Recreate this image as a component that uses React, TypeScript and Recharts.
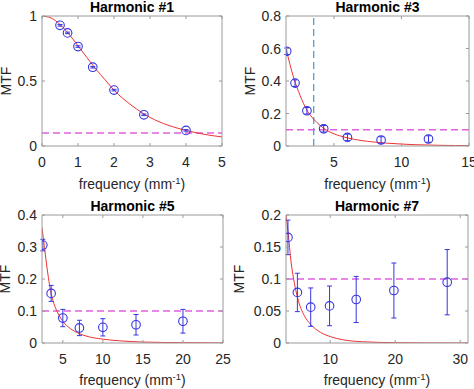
import React from 'react';
import { ComposedChart, Line, Scatter, XAxis, YAxis, ReferenceLine, ErrorBar } from 'recharts';

// ---------- data ----------
const freq1 = [0.5, 0.71, 1.0, 1.41, 2.0, 2.83, 4.0];
const mtf1 = [0.928, 0.87, 0.765, 0.606, 0.43, 0.24, 0.12];
const err1 = [0.006, 0.006, 0.006, 0.006, 0.006, 0.006, 0.006];
const fitF1 = [0, 0.25, 0.5, 0.75, 1, 1.25, 1.5, 1.75, 2, 2.5, 3, 3.5, 4, 4.5, 5];
const fitM1 = [1.0, 0.985, 0.935, 0.86, 0.77, 0.68, 0.59, 0.51, 0.43, 0.31, 0.22, 0.16, 0.12, 0.09, 0.07];

const freq3 = [1.5, 2.12, 3.0, 4.24, 6.0, 8.49, 12.0];
const mtf3 = [0.583, 0.387, 0.217, 0.106, 0.053, 0.037, 0.043];
const err3 = [0.02, 0.02, 0.02, 0.02, 0.02, 0.02, 0.02];
const fitF3 = [1.45, 1.75, 2, 2.5, 3, 3.5, 4, 4.5, 5, 6, 7, 8, 9, 10, 11, 12, 13, 14, 15];
const fitM3 = [0.6, 0.5, 0.425, 0.31, 0.22, 0.165, 0.125, 0.095, 0.075, 0.05, 0.034, 0.024, 0.017, 0.012, 0.008, 0.006, 0.004, 0.003, 0.002];

const freq5 = [2.5, 3.54, 5.0, 7.07, 10.0, 14.14, 20.0];
const mtf5 = [0.306, 0.155, 0.078, 0.047, 0.049, 0.057, 0.068];
const err5 = [0.018, 0.025, 0.027, 0.024, 0.027, 0.032, 0.037];
const fitF5 = [2.4, 2.75, 3, 3.54, 4, 4.5, 5, 6, 7, 8, 10, 12, 15, 20, 25];
const fitM5 = [0.36, 0.29, 0.24, 0.155, 0.115, 0.088, 0.068, 0.044, 0.03, 0.021, 0.012, 0.007, 0.003, 0.001, 0.0003];

const freq7 = [3.5, 4.95, 7.0, 9.9, 14.0, 19.8, 28.0];
const mtf7 = [0.165, 0.079, 0.056, 0.058, 0.068, 0.082, 0.095];
const err7 = [0.027, 0.03, 0.03, 0.031, 0.036, 0.043, 0.051];
const fitF7 = [3.2, 3.5, 4, 4.5, 5, 6, 7, 8, 9, 10, 12, 15, 20, 25, 31.2];
const fitM7 = [0.2, 0.175, 0.125, 0.093, 0.07, 0.043, 0.029, 0.02, 0.014, 0.01, 0.005, 0.002, 0.0005, 0.0001, 0];

const xTicks1 = [0, 1, 2, 3, 4, 5];
const yTicks1 = [0, 0.5, 1];
const xTicks3 = [5, 10, 15];
const yTicks3 = [0, 0.2, 0.4, 0.6, 0.8];
const xTicks5 = [5, 10, 15, 20, 25];
const yTicks5 = [0, 0.1, 0.2, 0.3, 0.4];
const xTicks7 = [10, 20, 30];
const yTicks7 = [0, 0.05, 0.1, 0.15, 0.2];

const titles = ['Harmonic #1', 'Harmonic #3', 'Harmonic #5', 'Harmonic #7'];
const threshold = 0.1;
const cutoff3 = 3.5;

// ---------- styles ----------
const FONT = '"Liberation Sans", Arial, Helvetica, sans-serif';
const TXT = '#262626';
const BOX = '#9a9a9a';
const RED = '#ee3333';
const BLUE = '#3535e0';
const MAG = '#e060e0';
const CYAN = '#4d9fd6';
const FS = 14;
const TICK = 3;
const W = 237;
const H = 195;

const zip = (xs: number[], ys: number[], es?: number[]) =>
  xs.map((x, i) => (es ? { x, y: ys[i], e: es[i] } : { x, y: ys[i] }));

type Box = { top: number; left: number; right: number; bottom: number };
type Cfg = {
  left: number;
  top: number;
  box: Box; // distances from the panel edges to the plot frame
  title: string;
  points: { x: number; y: number; e?: number }[];
  curve: { x: number; y: number }[];
  xDomain: [number, number];
  yDomain: [number, number];
  xTicks: number[];
  yTicks: number[];
  mtfX: number;
  xLabelDy: number;
  vline?: number;
};

const panels: Cfg[] = [
  {
    left: 0, top: 0, box: { top: 16, left: 42, right: 15, bottom: 49 },
    title: titles[0], points: zip(freq1, mtf1, err1), curve: zip(fitF1, fitM1),
    xDomain: [0, 5], yDomain: [0, 1], xTicks: xTicks1, yTicks: yTicks1, mtfX: 10.5, xLabelDy: 43,
  },
  {
    left: 237, top: 0, box: { top: 16, left: 49, right: 5, bottom: 49 },
    title: titles[1], points: zip(freq3, mtf3, err3), curve: zip(fitF3, fitM3),
    xDomain: [1.45, 15], yDomain: [0, 0.8], xTicks: xTicks3, yTicks: yTicks3, mtfX: 17.5, xLabelDy: 43,
    vline: cutoff3,
  },
  {
    left: 0, top: 195, box: { top: 20, left: 42, right: 14, bottom: 47 },
    title: titles[2], points: zip(freq5, mtf5, err5), curve: zip(fitF5, fitM5),
    xDomain: [2.4, 25], yDomain: [0, 0.4], xTicks: xTicks5, yTicks: yTicks5, mtfX: 10, xLabelDy: 42,
  },
  {
    left: 237, top: 195, box: { top: 20, left: 49, right: 6, bottom: 47 },
    title: titles[3], points: zip(freq7, mtf7, err7), curve: zip(fitF7, fitM7),
    xDomain: [3.2, 31.2], yDomain: [0, 0.2], xTicks: xTicks7, yTicks: yTicks7, mtfX: 6.5, xLabelDy: 42,
  },
];

const txtProps = { fontFamily: FONT, fontSize: FS, fill: TXT };

const bottomTick = (p: any) => (
  <g>
    <line x1={p.x} x2={p.x} y1={p.y} y2={p.y - TICK} stroke={BOX} />
    <text x={p.x} y={p.y + 21} textAnchor="middle" {...txtProps}>
      {String(p.payload.value)}
    </text>
  </g>
);
const topTick = (p: any) => (
  <line x1={p.x} x2={p.x} y1={p.y} y2={p.y + TICK} stroke={BOX} />
);
const leftTick = (p: any) => (
  <g>
    <line x1={p.x} x2={p.x + TICK} y1={p.y} y2={p.y} stroke={BOX} />
    <text x={p.x - 5} y={p.y + 5} textAnchor="end" {...txtProps}>
      {String(p.payload.value)}
    </text>
  </g>
);
const rightTick = (p: any) => (
  <line x1={p.x} x2={p.x - TICK} y1={p.y} y2={p.y} stroke={BOX} />
);

const circle = (p: any) => (
  <circle cx={p.cx} cy={p.cy} r={4.3} fill="none" stroke={BLUE} strokeWidth={1.1} />
);

function Panel({ cfg }: { cfg: Cfg }) {
  const { box } = cfg;
  // axes take 1px each, so the margin is one pixel smaller than the frame offset
  const margin = { top: box.top - 1, left: box.left - 1, right: box.right - 1, bottom: box.bottom - 1 };
  const boxL = box.left;
  const boxR = W - box.right;
  const boxT = box.top;
  const boxB = H - box.bottom;
  const cx = (boxL + boxR) / 2;
  const cy = (boxT + boxB) / 2;
  return (
    <div style={{ position: 'absolute', left: cfg.left, top: cfg.top, width: W, height: H }}>
      <ComposedChart width={W} height={H} margin={margin}>
        <XAxis
          xAxisId={0} type="number" dataKey="x" domain={cfg.xDomain} ticks={cfg.xTicks}
          allowDataOverflow interval={0} height={1} tickSize={0} tickMargin={0} tickLine={false}
          axisLine={{ stroke: BOX }} tick={bottomTick}
        />
        <XAxis
          xAxisId="top" orientation="top" type="number" dataKey="x" domain={cfg.xDomain} ticks={cfg.xTicks}
          allowDataOverflow interval={0} height={1} tickSize={0} tickMargin={0} tickLine={false}
          axisLine={{ stroke: BOX }} tick={topTick}
        />
        <YAxis
          yAxisId={0} type="number" dataKey="y" domain={cfg.yDomain} ticks={cfg.yTicks}
          allowDataOverflow interval={0} width={1} tickSize={0} tickMargin={0} tickLine={false}
          axisLine={{ stroke: BOX }} tick={leftTick}
        />
        <YAxis
          yAxisId="right" orientation="right" type="number" dataKey="y" domain={cfg.yDomain} ticks={cfg.yTicks}
          allowDataOverflow interval={0} width={1} tickSize={0} tickMargin={0} tickLine={false}
          axisLine={{ stroke: BOX }} tick={rightTick}
        />
        <ReferenceLine y={threshold} stroke={MAG} strokeWidth={1.3} strokeDasharray="7 4" />
        {cfg.vline !== undefined && (
          <ReferenceLine x={cfg.vline} stroke={CYAN} strokeWidth={1.3} strokeDasharray="7 4" />
        )}
        <Line
          data={cfg.curve} dataKey="y" type="monotone" stroke={RED} strokeWidth={1}
          dot={false} activeDot={false} isAnimationActive={false}
        />
        <Scatter data={cfg.points} dataKey="y" shape={circle} isAnimationActive={false}>
          <ErrorBar dataKey="e" direction="y" width={2.5} stroke={BLUE} strokeWidth={1} isAnimationActive={false} />
        </Scatter>
      </ComposedChart>
      <svg
        width={W} height={H}
        style={{ position: 'absolute', left: 0, top: 0, pointerEvents: 'none', overflow: 'visible' }}
      >
        <text x={cx} y={boxT - 4.5} textAnchor="middle" fontWeight="bold" {...txtProps} fill="#000">
          {cfg.title}
        </text>
        <text x={cx} y={boxB + cfg.xLabelDy} textAnchor="middle" {...txtProps}>
          frequency (mm
          <tspan dy={-5} fontSize={9.5}>-1</tspan>
          <tspan dy={5}>)</tspan>
        </text>
        <text
          x={cfg.mtfX} y={cy} textAnchor="middle" {...txtProps}
          transform={`rotate(-90, ${cfg.mtfX}, ${cy})`}
        >
          MTF
        </text>
      </svg>
    </div>
  );
}

export default function App() {
  return (
    <div style={{ position: 'absolute', left: 0, top: 0, width: 474, height: 389, background: '#fff', overflow: 'hidden' }}>
      {panels.map((p, i) => (
        <Panel key={i} cfg={p} />
      ))}
    </div>
  );
}
